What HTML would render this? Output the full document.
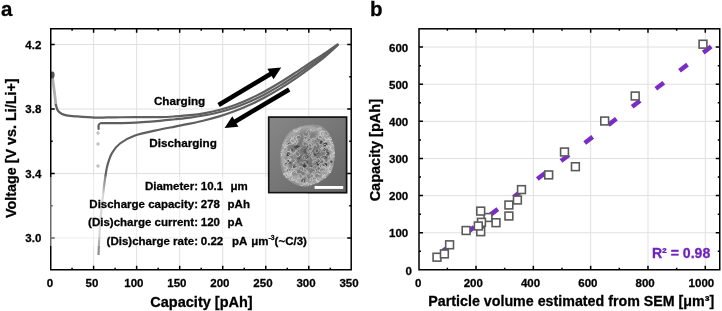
<!DOCTYPE html>
<html><head><meta charset="utf-8"><style>
html,body{margin:0;padding:0;background:#fff;width:722px;height:311px;overflow:hidden}
svg{display:block;will-change:transform}
</style></head><body>
<svg width="722" height="311" viewBox="0 0 722 311">
<rect width="722" height="311" fill="#fff"/>
<g stroke="#e0e0e0" stroke-width="1"><line x1="93.60" y1="28.75" x2="93.60" y2="269.75"/><line x1="136.64" y1="28.75" x2="136.64" y2="269.75"/><line x1="179.68" y1="28.75" x2="179.68" y2="269.75"/><line x1="222.72" y1="28.75" x2="222.72" y2="269.75"/><line x1="265.76" y1="28.75" x2="265.76" y2="269.75"/><line x1="308.80" y1="28.75" x2="308.80" y2="269.75"/><line x1="50.75" y1="44.50" x2="351.2" y2="44.50"/><line x1="50.75" y1="109.00" x2="351.2" y2="109.00"/><line x1="50.75" y1="173.50" x2="351.2" y2="173.50"/><line x1="50.75" y1="238.00" x2="351.2" y2="238.00"/><line x1="476.02" y1="28.8" x2="476.02" y2="269.75"/><line x1="533.34" y1="28.8" x2="533.34" y2="269.75"/><line x1="590.66" y1="28.8" x2="590.66" y2="269.75"/><line x1="647.98" y1="28.8" x2="647.98" y2="269.75"/><line x1="705.30" y1="28.8" x2="705.30" y2="269.75"/><line x1="419.0" y1="232.76" x2="719.75" y2="232.76"/><line x1="419.0" y1="195.62" x2="719.75" y2="195.62"/><line x1="419.0" y1="158.48" x2="719.75" y2="158.48"/><line x1="419.0" y1="121.34" x2="719.75" y2="121.34"/><line x1="419.0" y1="84.20" x2="719.75" y2="84.20"/><line x1="419.0" y1="47.06" x2="719.75" y2="47.06"/></g>
<path d="M72.08 269.75v-2M72.08 28.75v2M93.60 269.75v-4M93.60 28.75v4M115.12 269.75v-2M115.12 28.75v2M136.64 269.75v-4M136.64 28.75v4M158.16 269.75v-2M158.16 28.75v2M179.68 269.75v-4M179.68 28.75v4M201.20 269.75v-2M201.20 28.75v2M222.72 269.75v-4M222.72 28.75v4M244.24 269.75v-2M244.24 28.75v2M265.76 269.75v-4M265.76 28.75v4M287.28 269.75v-2M287.28 28.75v2M308.80 269.75v-4M308.80 28.75v4M330.32 269.75v-2M330.32 28.75v2M50.75 238.00h4M351.2 238.00h-4M50.75 205.75h2M351.2 205.75h-2M50.75 173.50h4M351.2 173.50h-4M50.75 141.25h2M351.2 141.25h-2M50.75 109.00h4M351.2 109.00h-4M50.75 76.75h2M351.2 76.75h-2M50.75 44.50h4M351.2 44.50h-4M447.36 269.75v-2M447.36 28.8v2M476.02 269.75v-4M476.02 28.8v4M504.68 269.75v-2M504.68 28.8v2M533.34 269.75v-4M533.34 28.8v4M562.00 269.75v-2M562.00 28.8v2M590.66 269.75v-4M590.66 28.8v4M619.32 269.75v-2M619.32 28.8v2M647.98 269.75v-4M647.98 28.8v4M676.64 269.75v-2M676.64 28.8v2M705.30 269.75v-4M705.30 28.8v4M419.0 251.33h2M719.75 251.33h-2M419.0 232.76h4M719.75 232.76h-4M419.0 214.19h2M719.75 214.19h-2M419.0 195.62h4M719.75 195.62h-4M419.0 177.05h2M719.75 177.05h-2M419.0 158.48h4M719.75 158.48h-4M419.0 139.91h2M719.75 139.91h-2M419.0 121.34h4M719.75 121.34h-4M419.0 102.77h2M719.75 102.77h-2M419.0 84.20h4M719.75 84.20h-4M419.0 65.63h2M719.75 65.63h-2M419.0 47.06h4M719.75 47.06h-4" stroke="#000" stroke-width="1.5" fill="none"/>
<defs><linearGradient id="g3" gradientUnits="userSpaceOnUse" x1="0" y1="172" x2="0" y2="256"><stop offset="0" stop-color="#5f5f5f"/><stop offset="0.0595" stop-color="#7c7c7c"/><stop offset="0.0596" stop-color="#3a3a3a"/><stop offset="0.155" stop-color="#5a5a5a"/><stop offset="0.274" stop-color="#bcbcbc"/><stop offset="0.75" stop-color="#bcbcbc"/><stop offset="0.845" stop-color="#707070"/><stop offset="0.9" stop-color="#909090"/><stop offset="1" stop-color="#8a8a8a"/></linearGradient></defs>
<g fill="none" stroke-width="2.2" stroke-linecap="round"><path d="M52.30 76.00 C52.57 78.00 53.45 84.50 53.90 88.00 C54.35 91.50 54.67 94.17 55.00 97.00 C55.33 99.83 55.75 103.67 55.90 105.00" stroke="#b0b0b0" stroke-width="2.8"/><path d="M55.90 105.00 C56.20 105.90 56.75 108.93 57.70 110.40 C58.65 111.87 60.15 112.98 61.60 113.80 C63.05 114.62 64.17 114.88 66.40 115.30 C68.63 115.72 70.23 115.92 75.00 116.30 C79.77 116.68 88.33 117.43 95.00 117.60 C101.67 117.77 108.33 117.37 115.00 117.30 C121.67 117.23 127.50 117.23 135.00 117.20 C142.50 117.17 153.33 117.22 160.00 117.09 C166.67 116.96 170.00 116.72 175.00 116.41 C180.00 116.09 185.00 115.76 190.00 115.20 C195.00 114.64 200.00 113.97 205.00 113.05 C210.00 112.13 215.00 111.04 220.00 109.69 C225.00 108.34 230.00 106.75 235.00 104.93 C240.00 103.11 245.00 101.04 250.00 98.75 C255.00 96.46 260.00 93.92 265.00 91.21 C270.00 88.50 275.00 85.55 280.00 82.51 C285.00 79.47 290.00 76.20 295.00 72.95 C300.00 69.70 305.00 66.28 310.00 62.98 C315.00 59.68 320.40 56.24 325.00 53.14 C329.60 50.04 335.50 45.86 337.60 44.40" stroke="#5f5f5f"/><path d="M98.60 129.00 C98.62 128.33 98.38 125.95 98.70 125.00 C99.02 124.05 99.45 123.62 100.50 123.30 C101.55 122.98 100.08 123.18 105.00 123.10 C109.92 123.02 120.83 123.19 130.00 122.80 C139.17 122.41 152.50 121.38 160.00 120.78 C167.50 120.18 170.00 119.76 175.00 119.22 C180.00 118.68 185.00 118.20 190.00 117.54 C195.00 116.88 200.00 116.19 205.00 115.26 C210.00 114.34 215.00 113.29 220.00 111.99 C225.00 110.69 230.00 109.22 235.00 107.48 C240.00 105.75 245.00 103.78 250.00 101.58 C255.00 99.38 260.00 96.94 265.00 94.29 C270.00 91.64 275.00 88.73 280.00 85.68 C285.00 82.63 290.00 79.35 295.00 76.00 C300.00 72.65 305.00 69.09 310.00 65.57 C315.00 62.04 320.40 58.30 325.00 54.85 C329.60 51.41 335.50 46.56 337.60 44.90" stroke="#5f5f5f"/><path d="M337.60 45.30 C335.50 47.18 329.60 52.79 325.00 56.59 C320.40 60.39 315.00 64.38 310.00 68.09 C305.00 71.80 300.00 75.42 295.00 78.85 C290.00 82.28 285.00 85.57 280.00 88.65 C275.00 91.73 270.00 94.63 265.00 97.32 C260.00 100.01 255.00 102.50 250.00 104.78 C245.00 107.06 240.00 109.14 235.00 111.03 C230.00 112.92 225.00 114.60 220.00 116.14 C215.00 117.68 210.00 119.03 205.00 120.28 C200.00 121.53 195.00 122.60 190.00 123.66 C185.00 124.72 180.00 125.63 175.00 126.61 C170.00 127.59 166.67 128.04 160.00 129.52 C153.33 131.00 141.67 133.17 135.00 135.50 C128.33 137.83 123.83 140.58 120.00 143.50 C116.17 146.42 114.08 149.42 112.00 153.00 C109.92 156.58 108.57 161.33 107.50 165.00 C106.43 168.67 105.92 173.33 105.60 175.00" stroke="#5f5f5f"/><path d="M105.60 175.00 C105.37 176.67 104.72 180.83 104.20 185.00 C103.68 189.17 103.12 194.17 102.50 200.00 C101.88 205.83 101.03 213.67 100.50 220.00 C99.97 226.33 99.63 232.17 99.30 238.00 C98.97 243.83 98.63 252.17 98.50 255.00" stroke="url(#g3)" stroke-linecap="butt"/></g>
<ellipse cx="52.4" cy="75" rx="2.2" ry="3.4" fill="#555"/>
<circle cx="98" cy="133" r="1.2" fill="none" stroke="#999" stroke-width="0.8"/>
<circle cx="98" cy="144" r="1.2" fill="none" stroke="#999" stroke-width="0.8"/>
<circle cx="98" cy="166" r="1.2" fill="none" stroke="#999" stroke-width="0.8"/>
<line x1="218.60" y1="105.00" x2="271.33" y2="73.50" stroke="#000" stroke-width="4.5"/><polygon points="281.20,67.60 273.55,79.16 267.39,68.86" fill="#000"/>
<line x1="289.20" y1="89.50" x2="234.49" y2="122.02" stroke="#000" stroke-width="4.5"/><polygon points="224.60,127.90 232.28,116.36 238.41,126.67" fill="#000"/>
<defs><clipPath id="ic"><rect x="268.9" y="117.1" width="77" height="74.4"/></clipPath><linearGradient id="bgG" x1="0" y1="0" x2="1" y2="1"><stop offset="0" stop-color="#878787"/><stop offset="0.5" stop-color="#767676"/><stop offset="1" stop-color="#646464"/></linearGradient><radialGradient id="spG" cx="0.45" cy="0.4" r="0.6"><stop offset="0" stop-color="#7c7c7c"/><stop offset="0.8" stop-color="#8a8a8a"/><stop offset="1" stop-color="#a8a8a8"/></radialGradient><filter id="sb" x="-5%" y="-5%" width="110%" height="110%"><feGaussianBlur stdDeviation="0.4"/></filter></defs><rect x="268.7" y="117.1" width="77.9" height="75.6" fill="url(#bgG)"/><defs><clipPath id="bc"><path d="M287.00 134.50 C291.02 129.55 298.52 126.85 304.50 125.60 C310.48 124.35 317.95 123.47 322.90 127.00 C327.85 130.53 333.02 139.02 334.20 146.80 C335.38 154.58 334.95 167.08 330.00 173.70 C325.05 180.32 312.05 186.02 304.50 186.50 C296.95 186.98 288.72 181.80 284.70 176.60 C280.68 171.40 280.02 162.32 280.40 155.30 C280.78 148.28 282.98 139.45 287.00 134.50Z"/></clipPath><radialGradient id="spG2" cx="0.5" cy="0.5" r="0.5"><stop offset="0" stop-color="#707070"/><stop offset="0.7" stop-color="#7e7e7e"/><stop offset="0.92" stop-color="#a8a8a8"/><stop offset="1" stop-color="#909090"/></radialGradient></defs><g filter="url(#sb)"><path d="M287.00 134.50 C291.02 129.55 298.52 126.85 304.50 125.60 C310.48 124.35 317.95 123.47 322.90 127.00 C327.85 130.53 333.02 139.02 334.20 146.80 C335.38 154.58 334.95 167.08 330.00 173.70 C325.05 180.32 312.05 186.02 304.50 186.50 C296.95 186.98 288.72 181.80 284.70 176.60 C280.68 171.40 280.02 162.32 280.40 155.30 C280.78 148.28 282.98 139.45 287.00 134.50Z" fill="url(#spG2)"/><g clip-path="url(#bc)"><circle cx="289.6" cy="161.5" r="2.1" fill="rgb(74,74,74)"/><circle cx="285.4" cy="162.9" r="1.2" fill="rgb(85,85,85)"/><circle cx="287.7" cy="154.5" r="2.0" fill="rgb(63,63,63)"/><circle cx="298.6" cy="159.1" r="1.6" fill="rgb(88,88,88)"/><circle cx="305.7" cy="151.2" r="2.2" fill="rgb(90,90,90)"/><circle cx="286.9" cy="162.3" r="1.8" fill="rgb(79,79,79)"/><circle cx="325.6" cy="157.7" r="1.1" fill="rgb(66,66,66)"/><circle cx="321.6" cy="142.7" r="1.9" fill="rgb(70,70,70)"/><circle cx="286.1" cy="164.4" r="1.6" fill="rgb(80,80,80)"/><circle cx="307.0" cy="157.6" r="1.1" fill="rgb(80,80,80)"/><circle cx="303.1" cy="180.6" r="2.2" fill="rgb(86,86,86)"/><circle cx="318.4" cy="162.3" r="1.9" fill="rgb(76,76,76)"/><circle cx="305.9" cy="162.4" r="1.9" fill="rgb(72,72,72)"/><circle cx="318.0" cy="164.5" r="1.1" fill="rgb(60,60,60)"/><circle cx="307.8" cy="155.5" r="1.3" fill="rgb(89,89,89)"/><circle cx="322.0" cy="160.9" r="1.9" fill="rgb(73,73,73)"/><circle cx="325.3" cy="164.8" r="1.9" fill="rgb(68,68,68)"/><circle cx="300.3" cy="167.9" r="1.0" fill="rgb(73,73,73)"/><circle cx="307.9" cy="147.4" r="1.3" fill="rgb(63,63,63)"/><circle cx="324.5" cy="157.2" r="1.6" fill="rgb(81,81,81)"/><circle cx="291.9" cy="149.9" r="1.2" fill="rgb(83,83,83)"/><circle cx="309.5" cy="139.9" r="1.5" fill="rgb(72,72,72)"/><circle cx="297.4" cy="161.5" r="1.3" fill="rgb(85,85,85)"/><circle cx="286.6" cy="142.3" r="1.0" fill="rgb(65,65,65)"/><circle cx="289.3" cy="170.2" r="1.8" fill="rgb(63,63,63)"/><circle cx="316.7" cy="158.5" r="1.5" fill="rgb(60,60,60)"/><circle cx="309.5" cy="141.8" r="1.4" fill="rgb(62,62,62)"/><circle cx="317.7" cy="161.1" r="1.8" fill="rgb(60,60,60)"/><circle cx="295.2" cy="146.9" r="1.5" fill="rgb(90,90,90)"/><circle cx="288.0" cy="144.1" r="1.2" fill="rgb(72,72,72)"/><circle cx="311.5" cy="165.0" r="2.1" fill="rgb(86,86,86)"/><circle cx="291.1" cy="142.4" r="1.2" fill="rgb(80,80,80)"/><circle cx="317.8" cy="151.9" r="2.1" fill="rgb(88,88,88)"/><circle cx="300.5" cy="156.8" r="1.1" fill="rgb(63,63,63)"/><circle cx="331.3" cy="161.9" r="1.3" fill="rgb(82,82,82)"/><circle cx="294.9" cy="166.2" r="2.1" fill="rgb(75,75,75)"/><circle cx="304.7" cy="166.1" r="1.9" fill="rgb(62,62,62)"/><circle cx="319.6" cy="168.3" r="1.8" fill="rgb(79,79,79)"/><circle cx="297.5" cy="147.3" r="2.1" fill="rgb(66,66,66)"/><circle cx="307.5" cy="149.4" r="1.5" fill="rgb(67,67,67)"/><circle cx="317.2" cy="159.9" r="1.4" fill="rgb(78,78,78)"/><circle cx="315.0" cy="154.7" r="1.2" fill="rgb(74,74,74)"/><circle cx="327.6" cy="153.5" r="1.8" fill="rgb(78,78,78)"/><circle cx="325.6" cy="149.7" r="2.1" fill="rgb(75,75,75)"/><circle cx="325.2" cy="144.8" r="2.2" fill="rgb(60,60,60)"/><path d="M300.2 152.6A1.5 1.5 0 0 1 299.9 150.1" fill="none" stroke="rgb(147,147,147)" stroke-width="0.9"/><path d="M329.3 164.6A2.6 2.6 0 1 1 324.8 167.0" fill="none" stroke="rgb(209,209,209)" stroke-width="0.9"/><path d="M329.4 178.4A1.9 1.9 0 0 1 325.8 177.0" fill="none" stroke="rgb(187,187,187)" stroke-width="0.9"/><path d="M322.6 140.0A2.7 2.7 0 0 1 319.3 144.1" fill="none" stroke="rgb(197,197,197)" stroke-width="0.9"/><path d="M299.1 140.9A1.4 1.4 0 0 1 296.7 141.2" fill="none" stroke="rgb(164,164,164)" stroke-width="0.9"/><path d="M333.7 156.5A2.6 2.6 0 1 1 338.0 153.8" fill="none" stroke="rgb(216,216,216)" stroke-width="0.9"/><path d="M285.6 161.1A2.3 2.3 0 0 1 290.1 161.1" fill="none" stroke="rgb(179,179,179)" stroke-width="0.9"/><path d="M290.2 142.0A1.8 1.8 0 0 1 291.7 145.1" fill="none" stroke="rgb(200,200,200)" stroke-width="0.9"/><path d="M294.4 140.4A2.8 2.8 0 0 1 295.5 135.6" fill="none" stroke="rgb(200,200,200)" stroke-width="0.9"/><path d="M309.6 165.4A2.8 2.8 0 0 1 313.4 169.5" fill="none" stroke="rgb(162,162,162)" stroke-width="0.9"/><path d="M294.6 178.4A1.7 1.7 0 1 1 297.8 177.7" fill="none" stroke="rgb(181,181,181)" stroke-width="0.9"/><path d="M320.1 145.4A2.3 2.3 0 0 1 319.7 141.4" fill="none" stroke="rgb(188,188,188)" stroke-width="0.9"/><path d="M292.1 179.5A1.5 1.5 0 1 1 290.2 177.5" fill="none" stroke="rgb(190,190,190)" stroke-width="0.9"/><path d="M324.5 166.9A2.9 2.9 0 0 1 323.1 172.3" fill="none" stroke="rgb(194,194,194)" stroke-width="0.9"/><path d="M293.4 156.3A2.7 2.7 0 0 1 288.2 157.9" fill="none" stroke="rgb(158,158,158)" stroke-width="0.9"/><path d="M314.0 139.9A2.4 2.4 0 0 1 317.2 143.0" fill="none" stroke="rgb(174,174,174)" stroke-width="0.9"/><path d="M298.8 182.0A1.4 1.4 0 0 1 296.6 180.2" fill="none" stroke="rgb(176,176,176)" stroke-width="0.9"/><path d="M310.1 138.1A2.6 2.6 0 1 1 307.0 141.8" fill="none" stroke="rgb(158,158,158)" stroke-width="0.9"/><path d="M285.9 161.6A2.4 2.4 0 1 1 282.8 164.9" fill="none" stroke="rgb(211,211,211)" stroke-width="0.9"/><path d="M315.8 180.0A1.8 1.8 0 1 1 316.1 183.6" fill="none" stroke="rgb(211,211,211)" stroke-width="0.9"/><path d="M303.6 145.1A1.8 1.8 0 1 1 306.0 142.3" fill="none" stroke="rgb(181,181,181)" stroke-width="0.9"/><path d="M278.5 154.6A1.7 1.7 0 1 1 276.3 157.1" fill="none" stroke="rgb(198,198,198)" stroke-width="0.9"/><path d="M334.0 173.0A2.6 2.6 0 0 1 330.0 169.9" fill="none" stroke="rgb(221,221,221)" stroke-width="0.9"/><path d="M308.1 152.5A2.3 2.3 0 0 1 311.1 155.9" fill="none" stroke="rgb(161,161,161)" stroke-width="0.9"/><path d="M283.6 159.8A1.7 1.7 0 1 1 283.4 163.1" fill="none" stroke="rgb(210,210,210)" stroke-width="0.9"/><path d="M315.5 152.3A1.8 1.8 0 0 1 316.4 149.4" fill="none" stroke="rgb(164,164,164)" stroke-width="0.9"/><path d="M283.2 148.8A1.9 1.9 0 1 1 279.6 149.9" fill="none" stroke="rgb(197,197,197)" stroke-width="0.9"/><path d="M300.0 156.8A1.9 1.9 0 0 1 302.4 154.0" fill="none" stroke="rgb(142,142,142)" stroke-width="0.9"/><path d="M315.1 183.8A2.1 2.1 0 0 1 310.9 183.3" fill="none" stroke="rgb(222,222,222)" stroke-width="0.9"/><path d="M308.5 144.9A1.6 1.6 0 1 1 311.7 145.6" fill="none" stroke="rgb(189,189,189)" stroke-width="0.9"/><path d="M298.7 128.2A2.2 2.2 0 0 1 296.4 131.1" fill="none" stroke="rgb(196,196,196)" stroke-width="0.9"/><path d="M284.2 163.3A2.7 2.7 0 0 1 288.9 162.8" fill="none" stroke="rgb(197,197,197)" stroke-width="0.9"/><path d="M318.6 138.6A1.9 1.9 0 1 1 321.8 136.9" fill="none" stroke="rgb(204,204,204)" stroke-width="0.9"/><path d="M311.8 182.3A2.9 2.9 0 0 1 317.6 182.9" fill="none" stroke="rgb(190,190,190)" stroke-width="0.9"/><path d="M297.9 162.4A1.4 1.4 0 0 1 299.7 160.2" fill="none" stroke="rgb(147,147,147)" stroke-width="0.9"/><path d="M286.1 153.1A2.7 2.7 0 0 1 291.3 154.4" fill="none" stroke="rgb(202,202,202)" stroke-width="0.9"/><path d="M323.8 180.1A2.1 2.1 0 1 1 319.8 181.2" fill="none" stroke="rgb(206,206,206)" stroke-width="0.9"/><path d="M303.5 177.1A1.6 1.6 0 1 1 306.6 176.5" fill="none" stroke="rgb(191,191,191)" stroke-width="0.9"/><path d="M299.8 154.8A2.1 2.1 0 0 1 296.0 155.6" fill="none" stroke="rgb(188,188,188)" stroke-width="0.9"/><path d="M308.6 153.2A1.7 1.7 0 1 1 308.4 149.8" fill="none" stroke="rgb(161,161,161)" stroke-width="0.9"/><path d="M302.9 141.4A2.2 2.2 0 0 1 307.2 141.2" fill="none" stroke="rgb(183,183,183)" stroke-width="0.9"/><path d="M291.2 136.5A2.5 2.5 0 0 1 290.5 140.4" fill="none" stroke="rgb(212,212,212)" stroke-width="0.9"/><path d="M289.3 168.9A1.7 1.7 0 1 1 288.4 165.7" fill="none" stroke="rgb(203,203,203)" stroke-width="0.9"/><path d="M308.3 168.5A2.3 2.3 0 0 1 312.3 168.6" fill="none" stroke="rgb(196,196,196)" stroke-width="0.9"/><path d="M293.9 142.2A1.7 1.7 0 1 1 295.7 144.9" fill="none" stroke="rgb(167,167,167)" stroke-width="0.9"/><path d="M315.3 187.5A2.8 2.8 0 0 1 310.6 185.3" fill="none" stroke="rgb(230,230,230)" stroke-width="0.9"/><path d="M325.3 165.1A2.1 2.1 0 0 1 321.6 166.9" fill="none" stroke="rgb(202,202,202)" stroke-width="0.9"/><path d="M323.4 169.8A2.5 2.5 0 0 1 319.1 171.3" fill="none" stroke="rgb(201,201,201)" stroke-width="0.9"/><path d="M289.9 175.3A2.0 2.0 0 1 1 290.9 179.1" fill="none" stroke="rgb(197,197,197)" stroke-width="0.9"/><path d="M284.2 156.3A1.7 1.7 0 0 1 281.3 156.6" fill="none" stroke="rgb(172,172,172)" stroke-width="0.9"/><path d="M306.4 132.9A2.8 2.8 0 0 1 310.7 130.1" fill="none" stroke="rgb(174,174,174)" stroke-width="0.9"/><path d="M318.0 181.0A3.0 3.0 0 0 1 315.4 185.3" fill="none" stroke="rgb(180,180,180)" stroke-width="0.9"/><path d="M325.2 175.4A1.5 1.5 0 0 1 322.4 174.3" fill="none" stroke="rgb(197,197,197)" stroke-width="0.9"/><path d="M290.3 154.3A2.4 2.4 0 1 1 285.6 153.5" fill="none" stroke="rgb(171,171,171)" stroke-width="0.9"/><path d="M313.8 175.8A2.6 2.6 0 0 1 316.1 171.8" fill="none" stroke="rgb(170,170,170)" stroke-width="0.9"/><path d="M331.3 172.0A1.9 1.9 0 1 1 328.6 169.3" fill="none" stroke="rgb(215,215,215)" stroke-width="0.9"/><path d="M327.1 146.7A1.7 1.7 0 0 1 330.2 147.5" fill="none" stroke="rgb(213,213,213)" stroke-width="0.9"/><path d="M306.5 182.0A2.6 2.6 0 1 1 304.5 186.7" fill="none" stroke="rgb(206,206,206)" stroke-width="0.9"/><path d="M317.5 170.4A2.3 2.3 0 0 1 319.8 166.7" fill="none" stroke="rgb(165,165,165)" stroke-width="0.9"/><path d="M285.5 171.5A1.5 1.5 0 0 1 286.7 168.8" fill="none" stroke="rgb(172,172,172)" stroke-width="0.9"/><path d="M333.0 137.6A2.8 2.8 0 0 1 327.7 137.9" fill="none" stroke="rgb(226,226,226)" stroke-width="0.9"/><path d="M304.1 171.2A2.0 2.0 0 0 1 301.2 169.4" fill="none" stroke="rgb(181,181,181)" stroke-width="0.9"/><path d="M331.7 153.5A2.5 2.5 0 1 1 329.6 157.6" fill="none" stroke="rgb(169,169,169)" stroke-width="0.9"/><path d="M313.2 163.1A1.8 1.8 0 0 1 316.4 161.5" fill="none" stroke="rgb(192,192,192)" stroke-width="0.9"/><path d="M313.7 174.9A1.6 1.6 0 1 1 314.6 172.1" fill="none" stroke="rgb(191,191,191)" stroke-width="0.9"/><path d="M290.1 149.3A2.2 2.2 0 0 1 289.9 153.1" fill="none" stroke="rgb(186,186,186)" stroke-width="0.9"/><path d="M310.7 145.9A2.4 2.4 0 0 1 312.7 149.2" fill="none" stroke="rgb(153,153,153)" stroke-width="0.9"/><path d="M282.6 174.7A2.8 2.8 0 0 1 287.9 176.1" fill="none" stroke="rgb(210,210,210)" stroke-width="0.9"/><path d="M324.0 148.1A2.2 2.2 0 0 1 328.1 149.6" fill="none" stroke="rgb(176,176,176)" stroke-width="0.9"/><path d="M290.5 155.2A2.9 2.9 0 1 1 292.7 160.4" fill="none" stroke="rgb(153,153,153)" stroke-width="0.9"/><path d="M323.1 158.5A1.5 1.5 0 1 1 321.9 155.9" fill="none" stroke="rgb(175,175,175)" stroke-width="0.9"/><path d="M321.6 160.5A2.0 2.0 0 1 1 324.9 162.9" fill="none" stroke="rgb(174,174,174)" stroke-width="0.9"/><path d="M331.0 169.0A2.1 2.1 0 1 1 334.7 170.0" fill="none" stroke="rgb(195,195,195)" stroke-width="0.9"/><path d="M318.8 157.2A2.7 2.7 0 0 1 316.6 161.3" fill="none" stroke="rgb(159,159,159)" stroke-width="0.9"/><path d="M297.1 150.5A2.4 2.4 0 0 1 300.3 147.6" fill="none" stroke="rgb(148,148,148)" stroke-width="0.9"/><path d="M301.4 166.8A2.0 2.0 0 0 1 298.4 164.4" fill="none" stroke="rgb(184,184,184)" stroke-width="0.9"/><path d="M306.1 176.8A2.1 2.1 0 0 1 305.8 180.9" fill="none" stroke="rgb(174,174,174)" stroke-width="0.9"/><path d="M333.4 149.6A1.8 1.8 0 1 1 331.7 146.7" fill="none" stroke="rgb(223,223,223)" stroke-width="0.9"/><path d="M278.5 153.6A1.8 1.8 0 1 1 281.0 156.2" fill="none" stroke="rgb(222,222,222)" stroke-width="0.9"/><path d="M288.4 145.4A2.6 2.6 0 0 1 285.1 142.0" fill="none" stroke="rgb(209,209,209)" stroke-width="0.9"/><path d="M333.1 142.3A1.5 1.5 0 0 1 330.4 142.3" fill="none" stroke="rgb(206,206,206)" stroke-width="0.9"/><path d="M313.0 158.7A1.8 1.8 0 1 1 314.1 155.4" fill="none" stroke="rgb(184,184,184)" stroke-width="0.9"/><path d="M312.3 168.6A3.0 3.0 0 0 1 317.6 166.5" fill="none" stroke="rgb(171,171,171)" stroke-width="0.9"/><path d="M295.6 178.8A2.7 2.7 0 0 1 290.9 179.1" fill="none" stroke="rgb(212,212,212)" stroke-width="0.9"/><path d="M321.3 131.5A2.1 2.1 0 0 1 322.3 135.5" fill="none" stroke="rgb(183,183,183)" stroke-width="0.9"/><path d="M289.7 176.4A3.0 3.0 0 0 1 292.0 171.0" fill="none" stroke="rgb(216,216,216)" stroke-width="0.9"/><path d="M311.3 143.4A2.4 2.4 0 0 1 315.8 145.0" fill="none" stroke="rgb(168,168,168)" stroke-width="0.9"/><path d="M312.8 160.3A2.3 2.3 0 1 1 317.4 160.3" fill="none" stroke="rgb(162,162,162)" stroke-width="0.9"/><path d="M310.4 152.4A1.9 1.9 0 0 1 307.2 154.4" fill="none" stroke="rgb(184,184,184)" stroke-width="0.9"/><path d="M298.5 182.6A2.5 2.5 0 0 1 297.2 178.4" fill="none" stroke="rgb(194,194,194)" stroke-width="0.9"/><path d="M296.8 144.2A2.9 2.9 0 0 1 298.3 138.8" fill="none" stroke="rgb(192,192,192)" stroke-width="0.9"/><path d="M330.2 142.8A2.9 2.9 0 1 1 335.7 141.9" fill="none" stroke="rgb(201,201,201)" stroke-width="0.9"/><path d="M293.5 156.7A2.9 2.9 0 0 1 294.8 162.4" fill="none" stroke="rgb(154,154,154)" stroke-width="0.9"/><path d="M294.2 171.1A2.0 2.0 0 0 1 296.6 168.0" fill="none" stroke="rgb(168,168,168)" stroke-width="0.9"/><path d="M307.4 139.5A2.0 2.0 0 0 1 305.0 136.2" fill="none" stroke="rgb(167,167,167)" stroke-width="0.9"/><path d="M318.6 182.2A2.8 2.8 0 0 1 316.6 178.1" fill="none" stroke="rgb(207,207,207)" stroke-width="0.9"/><path d="M320.5 160.5A1.9 1.9 0 1 1 317.2 159.1" fill="none" stroke="rgb(174,174,174)" stroke-width="0.9"/><path d="M330.2 166.0A2.7 2.7 0 0 1 325.8 166.3" fill="none" stroke="rgb(211,211,211)" stroke-width="0.9"/><path d="M319.9 165.1A1.4 1.4 0 0 1 322.2 166.1" fill="none" stroke="rgb(195,195,195)" stroke-width="0.9"/><path d="M287.0 166.7A2.2 2.2 0 0 1 284.3 169.9" fill="none" stroke="rgb(201,201,201)" stroke-width="0.9"/><path d="M292.4 164.1A2.9 2.9 0 0 1 295.8 168.9" fill="none" stroke="rgb(189,189,189)" stroke-width="0.9"/><path d="M312.5 149.1A2.4 2.4 0 1 1 308.3 147.0" fill="none" stroke="rgb(185,185,185)" stroke-width="0.9"/><path d="M308.1 158.6A2.0 2.0 0 0 1 304.5 157.0" fill="none" stroke="rgb(174,174,174)" stroke-width="0.9"/><path d="M294.5 136.8A2.5 2.5 0 0 1 293.9 141.8" fill="none" stroke="rgb(189,189,189)" stroke-width="0.9"/><path d="M319.2 147.2A1.7 1.7 0 1 1 321.2 149.9" fill="none" stroke="rgb(171,171,171)" stroke-width="0.9"/><path d="M314.9 174.4A1.9 1.9 0 0 1 312.7 176.6" fill="none" stroke="rgb(178,178,178)" stroke-width="0.9"/><path d="M307.0 138.8A1.6 1.6 0 1 1 303.9 139.3" fill="none" stroke="rgb(201,201,201)" stroke-width="0.9"/><path d="M288.1 162.5A2.9 2.9 0 0 1 283.5 164.1" fill="none" stroke="rgb(177,177,177)" stroke-width="0.9"/><path d="M290.6 174.2A2.4 2.4 0 0 1 295.1 172.9" fill="none" stroke="rgb(194,194,194)" stroke-width="0.9"/><path d="M313.9 168.9A1.7 1.7 0 0 1 314.8 172.0" fill="none" stroke="rgb(187,187,187)" stroke-width="0.9"/><path d="M325.5 148.3A2.8 2.8 0 0 1 330.7 146.6" fill="none" stroke="rgb(185,185,185)" stroke-width="0.9"/><path d="M294.4 132.6A1.5 1.5 0 0 1 293.0 135.2" fill="none" stroke="rgb(187,187,187)" stroke-width="0.9"/><path d="M330.9 147.0A2.0 2.0 0 0 1 334.9 147.2" fill="none" stroke="rgb(193,193,193)" stroke-width="0.9"/><path d="M311.4 147.2A2.9 2.9 0 1 1 306.3 149.3" fill="none" stroke="rgb(165,165,165)" stroke-width="0.9"/><path d="M294.8 159.1A2.1 2.1 0 0 1 292.6 162.5" fill="none" stroke="rgb(200,200,200)" stroke-width="0.9"/><path d="M298.1 169.5A2.8 2.8 0 1 1 303.6 170.2" fill="none" stroke="rgb(190,190,190)" stroke-width="0.9"/><path d="M305.4 176.2A1.6 1.6 0 0 1 306.8 178.4" fill="none" stroke="rgb(173,173,173)" stroke-width="0.9"/><path d="M310.9 146.5A1.8 1.8 0 0 1 313.1 148.7" fill="none" stroke="rgb(173,173,173)" stroke-width="0.9"/><path d="M302.0 147.2A2.6 2.6 0 0 1 307.1 148.0" fill="none" stroke="rgb(144,144,144)" stroke-width="0.9"/><path d="M314.6 138.8A2.9 2.9 0 1 1 310.8 134.7" fill="none" stroke="rgb(171,171,171)" stroke-width="0.9"/><path d="M328.3 159.7A2.2 2.2 0 1 1 324.3 159.5" fill="none" stroke="rgb(178,178,178)" stroke-width="0.9"/><path d="M302.6 164.1A1.9 1.9 0 1 1 306.3 163.7" fill="none" stroke="rgb(166,166,166)" stroke-width="0.9"/><path d="M316.4 158.9A2.5 2.5 0 1 1 317.9 163.5" fill="none" stroke="rgb(196,196,196)" stroke-width="0.9"/><path d="M318.1 135.7A1.4 1.4 0 1 1 320.4 134.0" fill="none" stroke="rgb(184,184,184)" stroke-width="0.9"/><path d="M306.4 163.7A2.6 2.6 0 1 1 302.3 166.7" fill="none" stroke="rgb(191,191,191)" stroke-width="0.9"/><path d="M312.5 180.0A1.9 1.9 0 0 1 314.9 177.2" fill="none" stroke="rgb(186,186,186)" stroke-width="0.9"/><path d="M334.4 149.8A2.3 2.3 0 0 1 330.4 149.4" fill="none" stroke="rgb(197,197,197)" stroke-width="0.9"/><path d="M302.8 137.8A2.9 2.9 0 1 1 307.8 140.7" fill="none" stroke="rgb(175,175,175)" stroke-width="0.9"/><path d="M288.8 161.0A1.6 1.6 0 0 1 291.5 161.6" fill="none" stroke="rgb(197,197,197)" stroke-width="0.9"/><path d="M305.3 142.0A2.0 2.0 0 0 1 303.2 145.5" fill="none" stroke="rgb(153,153,153)" stroke-width="0.9"/><path d="M309.1 160.4A3.0 3.0 0 1 1 314.8 159.0" fill="none" stroke="rgb(162,162,162)" stroke-width="0.9"/><path d="M323.4 144.9A2.2 2.2 0 1 1 325.4 148.7" fill="none" stroke="rgb(203,203,203)" stroke-width="0.9"/><path d="M296.5 167.5A2.1 2.1 0 0 1 292.6 168.1" fill="none" stroke="rgb(198,198,198)" stroke-width="0.9"/><path d="M298.3 180.1A1.8 1.8 0 0 1 294.8 180.7" fill="none" stroke="rgb(191,191,191)" stroke-width="0.9"/><path d="M300.9 172.8A2.4 2.4 0 0 1 296.5 170.9" fill="none" stroke="rgb(187,187,187)" stroke-width="0.9"/><path d="M299.1 168.6A1.6 1.6 0 0 1 300.8 170.9" fill="none" stroke="rgb(187,187,187)" stroke-width="0.9"/><path d="M323.7 143.3A2.0 2.0 0 0 1 326.7 141.6" fill="none" stroke="rgb(209,209,209)" stroke-width="0.9"/><path d="M316.0 180.6A3.0 3.0 0 1 1 315.5 186.2" fill="none" stroke="rgb(218,218,218)" stroke-width="0.9"/><path d="M331.3 148.8A1.7 1.7 0 0 1 328.2 148.4" fill="none" stroke="rgb(204,204,204)" stroke-width="0.9"/><path d="M293.5 163.5A1.5 1.5 0 0 1 292.4 166.1" fill="none" stroke="rgb(162,162,162)" stroke-width="0.9"/><path d="M281.4 162.8A1.8 1.8 0 0 1 284.7 164.1" fill="none" stroke="rgb(176,176,176)" stroke-width="0.9"/><path d="M296.0 150.1A2.9 2.9 0 1 1 290.5 149.2" fill="none" stroke="rgb(189,189,189)" stroke-width="0.9"/><path d="M324.6 177.7A1.4 1.4 0 0 1 326.3 179.8" fill="none" stroke="rgb(230,230,230)" stroke-width="0.9"/><path d="M281.4 143.3A1.7 1.7 0 0 1 284.1 142.5" fill="none" stroke="rgb(179,179,179)" stroke-width="0.9"/><path d="M288.6 171.1A2.9 2.9 0 0 1 284.2 173.6" fill="none" stroke="rgb(223,223,223)" stroke-width="0.9"/><path d="M293.6 132.2A2.0 2.0 0 1 1 296.3 135.0" fill="none" stroke="rgb(174,174,174)" stroke-width="0.9"/><path d="M316.5 171.9A1.5 1.5 0 0 1 318.9 171.0" fill="none" stroke="rgb(183,183,183)" stroke-width="0.9"/><path d="M315.8 174.4A1.8 1.8 0 0 1 319.3 174.9" fill="none" stroke="rgb(204,204,204)" stroke-width="0.9"/><path d="M310.7 132.6A2.7 2.7 0 0 1 314.6 129.1" fill="none" stroke="rgb(178,178,178)" stroke-width="0.9"/><path d="M287.7 157.4A2.4 2.4 0 1 1 288.7 162.0" fill="none" stroke="rgb(206,206,206)" stroke-width="0.9"/><path d="M303.7 182.5A2.1 2.1 0 1 1 300.0 184.6" fill="none" stroke="rgb(207,207,207)" stroke-width="0.9"/><path d="M313.6 165.4A2.9 2.9 0 0 1 315.9 160.1" fill="none" stroke="rgb(171,171,171)" stroke-width="0.9"/><path d="M321.3 144.9A1.5 1.5 0 1 1 320.8 147.7" fill="none" stroke="rgb(200,200,200)" stroke-width="0.9"/><path d="M297.3 166.1A2.7 2.7 0 1 1 292.7 168.3" fill="none" stroke="rgb(169,169,169)" stroke-width="0.9"/><path d="M320.0 171.5A2.2 2.2 0 0 1 321.1 168.0" fill="none" stroke="rgb(204,204,204)" stroke-width="0.9"/><path d="M328.8 171.7A2.3 2.3 0 1 1 329.8 175.8" fill="none" stroke="rgb(184,184,184)" stroke-width="0.9"/><path d="M331.2 157.9A2.8 2.8 0 0 1 334.7 153.6" fill="none" stroke="rgb(208,208,208)" stroke-width="0.9"/><path d="M309.9 141.7A2.6 2.6 0 1 1 313.6 145.0" fill="none" stroke="rgb(155,155,155)" stroke-width="0.9"/><path d="M294.3 153.4A2.8 2.8 0 0 1 299.6 155.0" fill="none" stroke="rgb(163,163,163)" stroke-width="0.9"/><path d="M309.9 173.1A1.9 1.9 0 1 1 307.1 170.8" fill="none" stroke="rgb(186,186,186)" stroke-width="0.9"/><path d="M295.4 167.4A2.3 2.3 0 0 1 291.9 168.7" fill="none" stroke="rgb(176,176,176)" stroke-width="0.9"/><path d="M302.8 175.4A2.9 2.9 0 0 1 297.4 177.0" fill="none" stroke="rgb(175,175,175)" stroke-width="0.9"/><path d="M318.0 183.5A2.5 2.5 0 0 1 313.2 183.3" fill="none" stroke="rgb(200,200,200)" stroke-width="0.9"/><path d="M309.8 151.5A2.4 2.4 0 0 1 311.6 155.9" fill="none" stroke="rgb(174,174,174)" stroke-width="0.9"/><path d="M301.3 147.2A2.8 2.8 0 0 1 296.7 148.3" fill="none" stroke="rgb(194,194,194)" stroke-width="0.9"/><path d="M318.0 130.1A1.8 1.8 0 1 1 321.5 129.4" fill="none" stroke="rgb(204,204,204)" stroke-width="0.9"/><path d="M299.7 129.6A2.1 2.1 0 0 1 295.8 129.3" fill="none" stroke="rgb(201,201,201)" stroke-width="0.9"/><path d="M325.3 171.3A1.8 1.8 0 0 1 326.4 174.8" fill="none" stroke="rgb(189,189,189)" stroke-width="0.9"/><path d="M313.9 136.6A2.5 2.5 0 0 1 310.3 140.0" fill="none" stroke="rgb(170,170,170)" stroke-width="0.9"/><path d="M335.9 153.6A1.7 1.7 0 0 1 334.0 151.3" fill="none" stroke="rgb(222,222,222)" stroke-width="0.9"/><path d="M330.5 171.6A2.1 2.1 0 0 1 334.7 171.9" fill="none" stroke="rgb(186,186,186)" stroke-width="0.9"/><path d="M328.5 158.1A2.3 2.3 0 0 1 332.4 155.8" fill="none" stroke="rgb(176,176,176)" stroke-width="0.9"/><path d="M301.5 183.2A1.8 1.8 0 0 1 301.9 179.7" fill="none" stroke="rgb(185,185,185)" stroke-width="0.9"/><path d="M308.4 142.8A2.8 2.8 0 1 1 310.8 147.5" fill="none" stroke="rgb(183,183,183)" stroke-width="0.9"/><path d="M286.8 177.2A2.2 2.2 0 0 1 284.7 173.3" fill="none" stroke="rgb(222,222,222)" stroke-width="0.9"/><path d="M324.0 147.3A2.2 2.2 0 0 1 319.9 147.9" fill="none" stroke="rgb(194,194,194)" stroke-width="0.9"/><path d="M300.2 138.8A2.9 2.9 0 1 1 298.5 133.3" fill="none" stroke="rgb(173,173,173)" stroke-width="0.9"/><path d="M320.2 168.1A2.5 2.5 0 0 1 324.8 167.7" fill="none" stroke="rgb(204,204,204)" stroke-width="0.9"/><path d="M311.6 144.1A2.2 2.2 0 0 1 310.7 139.8" fill="none" stroke="rgb(181,181,181)" stroke-width="0.9"/><path d="M309.3 170.4A3.0 3.0 0 0 1 303.6 169.5" fill="none" stroke="rgb(160,160,160)" stroke-width="0.9"/><path d="M297.7 174.6A2.4 2.4 0 0 1 296.6 179.2" fill="none" stroke="rgb(213,213,213)" stroke-width="0.9"/><path d="M306.6 181.9A1.5 1.5 0 0 1 304.1 183.7" fill="none" stroke="rgb(209,209,209)" stroke-width="0.9"/><path d="M287.4 144.6A2.4 2.4 0 0 1 282.7 143.9" fill="none" stroke="rgb(216,216,216)" stroke-width="0.9"/><path d="M298.0 180.0A2.2 2.2 0 0 1 298.3 175.5" fill="none" stroke="rgb(172,172,172)" stroke-width="0.9"/><path d="M294.9 140.7A2.0 2.0 0 0 1 294.4 136.7" fill="none" stroke="rgb(204,204,204)" stroke-width="0.9"/><path d="M319.2 133.6A1.5 1.5 0 0 1 321.1 131.4" fill="none" stroke="rgb(188,188,188)" stroke-width="0.9"/><path d="M299.1 126.3A1.6 1.6 0 0 1 299.1 129.5" fill="none" stroke="rgb(191,191,191)" stroke-width="0.9"/><path d="M322.5 172.6A2.6 2.6 0 0 1 317.8 173.4" fill="none" stroke="rgb(193,193,193)" stroke-width="0.9"/><path d="M317.7 171.5A1.9 1.9 0 0 1 319.2 168.7" fill="none" stroke="rgb(159,159,159)" stroke-width="0.9"/><path d="M294.4 131.1A3.0 3.0 0 0 1 299.6 133.1" fill="none" stroke="rgb(179,179,179)" stroke-width="0.9"/><path d="M295.5 150.4A2.1 2.1 0 0 1 292.3 153.0" fill="none" stroke="rgb(171,171,171)" stroke-width="0.9"/><path d="M335.6 148.0A1.7 1.7 0 0 1 333.7 145.1" fill="none" stroke="rgb(184,184,184)" stroke-width="0.9"/><path d="M307.9 131.6A2.9 2.9 0 1 1 302.9 133.6" fill="none" stroke="rgb(176,176,176)" stroke-width="0.9"/><path d="M287.2 162.2A2.7 2.7 0 1 1 291.8 159.4" fill="none" stroke="rgb(170,170,170)" stroke-width="0.9"/><path d="M295.4 160.8A2.7 2.7 0 0 1 294.4 166.0" fill="none" stroke="rgb(176,176,176)" stroke-width="0.9"/><path d="M310.3 176.6A1.9 1.9 0 1 1 313.7 176.9" fill="none" stroke="rgb(204,204,204)" stroke-width="0.9"/><path d="M314.2 176.1A2.3 2.3 0 0 1 315.8 172.8" fill="none" stroke="rgb(178,178,178)" stroke-width="0.9"/><path d="M297.9 169.2A1.4 1.4 0 0 1 295.9 167.4" fill="none" stroke="rgb(177,177,177)" stroke-width="0.9"/><path d="M286.8 147.1A1.7 1.7 0 0 1 284.0 147.0" fill="none" stroke="rgb(215,215,215)" stroke-width="0.9"/><path d="M323.7 146.4A2.6 2.6 0 1 1 322.9 151.3" fill="none" stroke="rgb(157,157,157)" stroke-width="0.9"/><path d="M336.3 154.0A2.1 2.1 0 0 1 334.6 157.7" fill="none" stroke="rgb(193,193,193)" stroke-width="0.9"/><path d="M309.1 135.5A1.5 1.5 0 0 1 310.4 133.1" fill="none" stroke="rgb(165,165,165)" stroke-width="0.9"/><path d="M316.1 177.4A1.6 1.6 0 0 1 314.7 174.7" fill="none" stroke="rgb(193,193,193)" stroke-width="0.9"/><path d="M296.7 155.5A2.5 2.5 0 1 1 297.7 150.6" fill="none" stroke="rgb(188,188,188)" stroke-width="0.9"/><path d="M284.7 175.1A2.7 2.7 0 0 1 290.1 175.3" fill="none" stroke="rgb(187,187,187)" stroke-width="0.9"/><path d="M285.9 176.0A1.8 1.8 0 0 1 285.8 172.6" fill="none" stroke="rgb(191,191,191)" stroke-width="0.9"/><path d="M322.5 177.6A2.6 2.6 0 0 1 325.4 174.8" fill="none" stroke="rgb(226,226,226)" stroke-width="0.9"/><path d="M325.8 152.3A2.5 2.5 0 0 1 323.2 155.9" fill="none" stroke="rgb(197,197,197)" stroke-width="0.9"/><path d="M299.3 166.2A2.6 2.6 0 1 1 303.6 163.3" fill="none" stroke="rgb(161,161,161)" stroke-width="0.9"/><path d="M326.0 167.2A2.0 2.0 0 0 1 322.1 166.7" fill="none" stroke="rgb(180,180,180)" stroke-width="0.9"/><path d="M303.6 179.8A1.8 1.8 0 0 1 301.7 182.3" fill="none" stroke="rgb(220,220,220)" stroke-width="0.9"/><path d="M321.2 178.2A1.8 1.8 0 0 1 317.9 177.2" fill="none" stroke="rgb(196,196,196)" stroke-width="0.9"/><path d="M315.5 135.0A1.8 1.8 0 0 1 314.5 138.3" fill="none" stroke="rgb(162,162,162)" stroke-width="0.9"/><path d="M318.4 148.5A2.9 2.9 0 0 1 315.2 152.8" fill="none" stroke="rgb(169,169,169)" stroke-width="0.9"/><path d="M283.6 158.6A2.2 2.2 0 0 1 283.9 154.6" fill="none" stroke="rgb(167,167,167)" stroke-width="0.9"/><path d="M323.6 161.7A2.0 2.0 0 1 1 325.5 158.3" fill="none" stroke="rgb(165,165,165)" stroke-width="0.9"/><path d="M297.4 140.3A1.9 1.9 0 0 1 296.5 143.3" fill="none" stroke="rgb(202,202,202)" stroke-width="0.9"/><path d="M330.4 145.0A2.4 2.4 0 0 1 334.4 147.4" fill="none" stroke="rgb(200,200,200)" stroke-width="0.9"/><path d="M312.7 159.7A2.1 2.1 0 1 1 316.6 160.0" fill="none" stroke="rgb(167,167,167)" stroke-width="0.9"/><path d="M317.4 160.7A2.2 2.2 0 0 1 317.8 156.4" fill="none" stroke="rgb(147,147,147)" stroke-width="0.9"/><path d="M314.5 165.0A1.8 1.8 0 0 1 316.9 167.2" fill="none" stroke="rgb(148,148,148)" stroke-width="0.9"/><path d="M332.7 142.4A1.4 1.4 0 1 1 335.0 143.8" fill="none" stroke="rgb(232,232,232)" stroke-width="0.9"/><path d="M286.0 146.9A2.3 2.3 0 1 1 282.7 149.6" fill="none" stroke="rgb(189,189,189)" stroke-width="0.9"/><path d="M307.1 164.3A1.4 1.4 0 0 1 307.4 166.9" fill="none" stroke="rgb(169,169,169)" stroke-width="0.9"/><path d="M297.5 131.1A2.7 2.7 0 1 1 294.7 126.5" fill="none" stroke="rgb(214,214,214)" stroke-width="0.9"/><path d="M311.6 142.2A2.1 2.1 0 1 1 314.6 139.4" fill="none" stroke="rgb(184,184,184)" stroke-width="0.9"/><path d="M309.6 172.7A1.9 1.9 0 0 1 307.5 169.4" fill="none" stroke="rgb(159,159,159)" stroke-width="0.9"/><path d="M331.0 133.4A2.7 2.7 0 0 1 328.4 137.9" fill="none" stroke="rgb(212,212,212)" stroke-width="0.9"/><path d="M281.8 153.1A1.5 1.5 0 0 1 284.2 154.6" fill="none" stroke="rgb(200,200,200)" stroke-width="0.9"/><path d="M322.4 158.9A2.2 2.2 0 0 1 322.2 163.2" fill="none" stroke="rgb(196,196,196)" stroke-width="0.9"/><path d="M296.5 144.6A2.5 2.5 0 1 1 295.8 139.9" fill="none" stroke="rgb(169,169,169)" stroke-width="0.9"/><path d="M320.5 134.3A2.3 2.3 0 1 1 324.7 132.5" fill="none" stroke="rgb(216,216,216)" stroke-width="0.9"/><path d="M307.1 142.1A1.7 1.7 0 1 1 306.1 138.9" fill="none" stroke="rgb(170,170,170)" stroke-width="0.9"/><path d="M307.8 168.1A1.4 1.4 0 1 1 309.5 170.2" fill="none" stroke="rgb(156,156,156)" stroke-width="0.9"/><path d="M304.8 170.0A1.8 1.8 0 0 1 307.3 172.5" fill="none" stroke="rgb(195,195,195)" stroke-width="0.9"/><path d="M316.0 157.3A2.5 2.5 0 0 1 311.9 156.8" fill="none" stroke="rgb(160,160,160)" stroke-width="0.9"/><path d="M291.6 174.8A2.7 2.7 0 1 1 296.5 173.4" fill="none" stroke="rgb(198,198,198)" stroke-width="0.9"/><path d="M313.7 146.8A1.5 1.5 0 1 1 316.6 146.5" fill="none" stroke="rgb(188,188,188)" stroke-width="0.9"/><path d="M303.8 172.0A2.4 2.4 0 1 1 301.7 175.8" fill="none" stroke="rgb(181,181,181)" stroke-width="0.9"/><path d="M302.4 142.2A1.9 1.9 0 0 1 300.5 145.3" fill="none" stroke="rgb(155,155,155)" stroke-width="0.9"/><path d="M278.3 147.3A2.8 2.8 0 0 1 281.2 143.4" fill="none" stroke="rgb(181,181,181)" stroke-width="0.9"/><path d="M303.1 179.5A1.8 1.8 0 0 1 305.2 176.7" fill="none" stroke="rgb(170,170,170)" stroke-width="0.9"/><path d="M291.2 158.6A1.8 1.8 0 0 1 288.3 159.4" fill="none" stroke="rgb(204,204,204)" stroke-width="0.9"/><path d="M302.8 164.0A1.7 1.7 0 1 1 305.7 165.0" fill="none" stroke="rgb(155,155,155)" stroke-width="0.9"/><path d="M325.8 156.2A1.5 1.5 0 0 1 327.4 153.7" fill="none" stroke="rgb(193,193,193)" stroke-width="0.9"/><path d="M326.6 162.2A2.5 2.5 0 0 1 330.8 164.0" fill="none" stroke="rgb(182,182,182)" stroke-width="0.9"/><path d="M328.3 131.7A2.1 2.1 0 1 1 325.7 135.0" fill="none" stroke="rgb(195,195,195)" stroke-width="0.9"/><path d="M324.7 131.2A2.3 2.3 0 0 1 327.8 134.0" fill="none" stroke="rgb(183,183,183)" stroke-width="0.9"/><path d="M310.1 139.4A2.2 2.2 0 0 1 306.3 140.9" fill="none" stroke="rgb(176,176,176)" stroke-width="0.9"/><path d="M329.9 154.9A2.7 2.7 0 1 1 327.8 159.8" fill="none" stroke="rgb(188,188,188)" stroke-width="0.9"/><path d="M300.5 174.1A2.5 2.5 0 1 1 298.2 178.4" fill="none" stroke="rgb(193,193,193)" stroke-width="0.9"/><path d="M288.4 169.5A1.8 1.8 0 0 1 287.4 172.2" fill="none" stroke="rgb(207,207,207)" stroke-width="0.9"/><path d="M315.8 169.1A2.6 2.6 0 0 1 320.3 167.6" fill="none" stroke="rgb(177,177,177)" stroke-width="0.9"/><path d="M295.2 142.4A1.9 1.9 0 1 1 291.8 140.7" fill="none" stroke="rgb(198,198,198)" stroke-width="0.9"/><path d="M322.5 168.2A2.6 2.6 0 1 1 322.0 163.1" fill="none" stroke="rgb(189,189,189)" stroke-width="0.9"/><path d="M304.0 170.4A2.0 2.0 0 0 1 301.2 168.0" fill="none" stroke="rgb(160,160,160)" stroke-width="0.9"/><path d="M303.0 158.5A2.2 2.2 0 0 1 305.6 155.1" fill="none" stroke="rgb(174,174,174)" stroke-width="0.9"/><path d="M322.2 135.2A1.4 1.4 0 0 1 320.1 134.0" fill="none" stroke="rgb(211,211,211)" stroke-width="0.9"/><path d="M332.7 174.3A2.1 2.1 0 0 1 329.7 176.6" fill="none" stroke="rgb(210,210,210)" stroke-width="0.9"/><path d="M315.3 129.4A2.7 2.7 0 0 1 310.2 128.4" fill="none" stroke="rgb(199,199,199)" stroke-width="0.9"/><path d="M329.2 138.2A2.2 2.2 0 1 1 324.8 137.3" fill="none" stroke="rgb(216,216,216)" stroke-width="0.9"/><path d="M288.9 171.5A1.7 1.7 0 1 1 290.5 174.4" fill="none" stroke="rgb(213,213,213)" stroke-width="0.9"/><path d="M294.5 142.1A2.3 2.3 0 1 1 292.0 138.4" fill="none" stroke="rgb(206,206,206)" stroke-width="0.9"/><path d="M307.9 134.4A2.1 2.1 0 0 1 306.1 138.2" fill="none" stroke="rgb(183,183,183)" stroke-width="0.9"/><path d="M291.4 143.0A2.2 2.2 0 1 1 287.0 142.0" fill="none" stroke="rgb(193,193,193)" stroke-width="0.9"/><path d="M305.5 163.6A1.5 1.5 0 0 1 306.6 160.9" fill="none" stroke="rgb(163,163,163)" stroke-width="0.9"/><path d="M333.1 153.0A1.9 1.9 0 1 1 331.9 156.2" fill="none" stroke="rgb(198,198,198)" stroke-width="0.9"/><path d="M337.5 164.0A2.6 2.6 0 0 1 335.9 168.1" fill="none" stroke="rgb(194,194,194)" stroke-width="0.9"/><path d="M321.9 133.1A2.9 2.9 0 1 1 318.2 137.4" fill="none" stroke="rgb(201,201,201)" stroke-width="0.9"/><path d="M309.0 171.7A1.7 1.7 0 0 1 305.7 171.9" fill="none" stroke="rgb(184,184,184)" stroke-width="0.9"/><path d="M316.1 135.4A2.3 2.3 0 0 1 315.0 139.3" fill="none" stroke="rgb(177,177,177)" stroke-width="0.9"/><path d="M320.3 153.1A1.6 1.6 0 1 1 323.3 152.4" fill="none" stroke="rgb(165,165,165)" stroke-width="0.9"/><path d="M327.5 164.2A1.5 1.5 0 1 1 325.0 165.3" fill="none" stroke="rgb(166,166,166)" stroke-width="0.9"/><path d="M312.5 146.0A2.0 2.0 0 0 1 309.3 146.0" fill="none" stroke="rgb(168,168,168)" stroke-width="0.9"/><path d="M319.4 153.0A1.9 1.9 0 1 1 322.6 151.2" fill="none" stroke="rgb(150,150,150)" stroke-width="0.9"/><path d="M323.8 138.1A2.8 2.8 0 1 1 320.4 134.1" fill="none" stroke="rgb(180,180,180)" stroke-width="0.9"/><path d="M293.9 152.1A2.9 2.9 0 0 1 288.2 153.5" fill="none" stroke="rgb(181,181,181)" stroke-width="0.9"/><path d="M289.4 172.7A2.5 2.5 0 1 1 285.5 175.4" fill="none" stroke="rgb(218,218,218)" stroke-width="0.9"/><path d="M288.7 142.1A1.7 1.7 0 1 1 286.6 139.5" fill="none" stroke="rgb(200,200,200)" stroke-width="0.9"/><path d="M321.8 161.6A1.8 1.8 0 1 1 323.8 158.6" fill="none" stroke="rgb(171,171,171)" stroke-width="0.9"/><path d="M317.2 181.7A2.5 2.5 0 0 1 318.9 186.2" fill="none" stroke="rgb(203,203,203)" stroke-width="0.9"/><path d="M309.0 144.2A1.5 1.5 0 0 1 308.6 141.3" fill="none" stroke="rgb(188,188,188)" stroke-width="0.9"/><path d="M292.5 166.2A2.2 2.2 0 0 1 289.2 168.8" fill="none" stroke="rgb(205,205,205)" stroke-width="0.9"/><path d="M290.3 167.5A1.6 1.6 0 1 1 288.9 164.8" fill="none" stroke="rgb(167,167,167)" stroke-width="0.9"/><path d="M296.3 139.8A2.9 2.9 0 1 1 301.2 136.7" fill="none" stroke="rgb(198,198,198)" stroke-width="0.9"/><path d="M310.9 181.3A2.0 2.0 0 0 1 312.8 177.8" fill="none" stroke="rgb(210,210,210)" stroke-width="0.9"/><path d="M321.9 149.2A2.5 2.5 0 0 1 325.5 152.1" fill="none" stroke="rgb(179,179,179)" stroke-width="0.9"/><path d="M289.1 174.2A2.8 2.8 0 0 1 291.6 169.6" fill="none" stroke="rgb(172,172,172)" stroke-width="0.9"/><path d="M317.1 130.3A2.3 2.3 0 0 1 320.9 129.3" fill="none" stroke="rgb(191,191,191)" stroke-width="0.9"/><path d="M322.5 163.6A2.0 2.0 0 1 1 322.9 167.5" fill="none" stroke="rgb(178,178,178)" stroke-width="0.9"/><path d="M333.2 151.8A2.8 2.8 0 0 1 337.3 154.4" fill="none" stroke="rgb(180,180,180)" stroke-width="0.9"/><path d="M293.4 169.9A1.9 1.9 0 0 1 295.2 173.3" fill="none" stroke="rgb(174,174,174)" stroke-width="0.9"/><path d="M338.0 149.8A2.0 2.0 0 1 1 335.9 153.3" fill="none" stroke="rgb(228,228,228)" stroke-width="0.9"/><path d="M311.4 158.1A3.0 3.0 0 1 1 313.6 163.5" fill="none" stroke="rgb(155,155,155)" stroke-width="0.9"/><path d="M285.8 151.5A2.2 2.2 0 0 1 284.1 155.5" fill="none" stroke="rgb(172,172,172)" stroke-width="0.9"/><path d="M306.1 146.0A1.7 1.7 0 1 1 308.0 148.7" fill="none" stroke="rgb(190,190,190)" stroke-width="0.9"/><path d="M324.9 142.9A3.0 3.0 0 1 1 330.5 143.7" fill="none" stroke="rgb(196,196,196)" stroke-width="0.9"/><path d="M306.4 155.8A2.8 2.8 0 1 1 301.1 156.0" fill="none" stroke="rgb(141,141,141)" stroke-width="0.9"/><path d="M324.7 167.8A2.3 2.3 0 1 1 320.2 167.7" fill="none" stroke="rgb(164,164,164)" stroke-width="0.9"/><path d="M299.2 175.6A1.6 1.6 0 0 1 302.0 175.3" fill="none" stroke="rgb(167,167,167)" stroke-width="0.9"/></g></g><rect x="314.6" y="186.0" width="28.6" height="2.9" fill="#fff"/><rect x="268.7" y="117.1" width="77.9" height="75.6" fill="none" stroke="#111" stroke-width="1.7"/>
<line x1="434.61" y1="257.28" x2="711.44" y2="46.39" stroke="#7a2dc6" stroke-width="4.5" stroke-dasharray="10 19.8" stroke-dashoffset="19.9"/>
<g fill="#fff" stroke="#5a5a5a" stroke-width="1.6"><rect x="433.10" y="253.30" width="7.8" height="7.8"/><rect x="440.50" y="250.00" width="7.8" height="7.8"/><rect x="445.70" y="240.90" width="7.8" height="7.8"/><rect x="462.20" y="226.60" width="7.8" height="7.8"/><rect x="484.10" y="213.60" width="7.8" height="7.8"/><rect x="476.80" y="207.20" width="7.8" height="7.8"/><rect x="477.60" y="218.40" width="7.8" height="7.8"/><rect x="476.80" y="227.80" width="7.8" height="7.8"/><rect x="474.40" y="222.10" width="7.8" height="7.8"/><rect x="492.10" y="218.80" width="7.8" height="7.8"/><rect x="505.00" y="201.10" width="7.8" height="7.8"/><rect x="505.00" y="212.10" width="7.8" height="7.8"/><rect x="513.50" y="196.10" width="7.8" height="7.8"/><rect x="517.60" y="185.70" width="7.8" height="7.8"/><rect x="544.80" y="171.00" width="7.8" height="7.8"/><rect x="560.60" y="148.10" width="7.8" height="7.8"/><rect x="571.50" y="162.80" width="7.8" height="7.8"/><rect x="600.80" y="117.10" width="7.8" height="7.8"/><rect x="631.30" y="92.10" width="7.8" height="7.8"/><rect x="699.10" y="40.30" width="7.8" height="7.8"/></g>
<rect x="50.75" y="28.75" width="300.45" height="241.00" fill="none" stroke="#000" stroke-width="1.5"/>
<rect x="419.0" y="28.8" width="300.75" height="240.95" fill="none" stroke="#000" stroke-width="1.5"/>
<path d="M48 177H307V246H48Z M268 177V193.6H307V177Z" fill="#fff" fill-opacity="0.42" fill-rule="evenodd"/>
<g font-family='"Liberation Sans", sans-serif' font-weight="bold" stroke="currentColor" stroke-width="0.28" paint-order="stroke"><text x="1.0" y="15.8" font-size="20.5" text-anchor="start" fill="#000" color="#000" >a</text><text x="370.0" y="15.8" font-size="20.5" text-anchor="start" fill="#000" color="#000" >b</text><text x="41.3" y="48.6" font-size="11.5" text-anchor="end" fill="#000" color="#000" >4.2</text><text x="41.3" y="113.1" font-size="11.5" text-anchor="end" fill="#000" color="#000" >3.8</text><text x="41.3" y="177.6" font-size="11.5" text-anchor="end" fill="#000" color="#000" >3.4</text><text x="41.3" y="242.1" font-size="11.5" text-anchor="end" fill="#000" color="#000" >3.0</text><text x="49.96" y="287" font-size="11.5" text-anchor="middle" fill="#000" color="#000" >0</text><text x="91.9" y="287" font-size="11.5" text-anchor="middle" fill="#000" color="#000" >50</text><text x="133.84" y="287" font-size="11.5" text-anchor="middle" fill="#000" color="#000" >100</text><text x="176.88" y="287" font-size="11.5" text-anchor="middle" fill="#000" color="#000" >150</text><text x="219.92" y="287" font-size="11.5" text-anchor="middle" fill="#000" color="#000" >200</text><text x="262.96" y="287" font-size="11.5" text-anchor="middle" fill="#000" color="#000" >250</text><text x="306.0" y="287" font-size="11.5" text-anchor="middle" fill="#000" color="#000" >300</text><text x="349.04" y="287" font-size="11.5" text-anchor="middle" fill="#000" color="#000" >350</text><text x="201.5" y="306.8" font-size="14.5" text-anchor="middle" fill="#000" color="#000" >Capacity [pAh]</text><text x="0" y="0" font-size="14.35" text-anchor="middle" fill="#000" color="#000" transform="translate(16.3 148.2) rotate(-90)">Voltage [V vs. Li/Li+]</text><text x="411.8" y="274.6" font-size="11.5" text-anchor="end" fill="#000" color="#000" >0</text><text x="408.2" y="237.46" font-size="11.5" text-anchor="end" fill="#000" color="#000" >100</text><text x="408.2" y="200.32" font-size="11.5" text-anchor="end" fill="#000" color="#000" >200</text><text x="408.2" y="163.18" font-size="11.5" text-anchor="end" fill="#000" color="#000" >300</text><text x="408.2" y="126.04" font-size="11.5" text-anchor="end" fill="#000" color="#000" >400</text><text x="408.2" y="88.9" font-size="11.5" text-anchor="end" fill="#000" color="#000" >500</text><text x="408.2" y="51.76" font-size="11.5" text-anchor="end" fill="#000" color="#000" >600</text><text x="418.1" y="287.3" font-size="11.5" text-anchor="middle" fill="#000" color="#000" >0</text><text x="473.22" y="287.3" font-size="11.5" text-anchor="middle" fill="#000" color="#000" >200</text><text x="530.54" y="287.3" font-size="11.5" text-anchor="middle" fill="#000" color="#000" >400</text><text x="587.86" y="287.3" font-size="11.5" text-anchor="middle" fill="#000" color="#000" >600</text><text x="645.18" y="287.3" font-size="11.5" text-anchor="middle" fill="#000" color="#000" >800</text><text x="701.4" y="287.3" font-size="11.5" text-anchor="middle" fill="#000" color="#000" >1000</text><text x="571.3" y="306.3" font-size="14.25" text-anchor="middle" fill="#000" color="#000" >Particle volume estimated from SEM [μm³]</text><text x="0" y="0" font-size="14.5" text-anchor="middle" fill="#000" color="#000" transform="translate(380.3 150.2) rotate(-90)">Capacity [pAh]</text><text x="710.3" y="258.3" font-size="14.1" text-anchor="end" fill="#6f22bf" color="#6f22bf" >R² = 0.98</text><text x="205.2" y="104.8" font-size="11.7" text-anchor="end" fill="#000" color="#000" >Charging</text><text x="216.9" y="147.3" font-size="11.7" text-anchor="end" fill="#000" color="#000" >Discharging</text><text x="198.0" y="190.2" font-size="11.5" text-anchor="end" fill="#000" color="#000" >Diameter:</text><text x="200.8" y="190.2" font-size="11.5" text-anchor="start" fill="#000" color="#000" >10.1</text><text x="198.0" y="208.3" font-size="11.5" text-anchor="end" fill="#000" color="#000" >Discharge capacity:</text><text x="200.8" y="208.3" font-size="11.5" text-anchor="start" fill="#000" color="#000" >278</text><text x="198.0" y="226.4" font-size="11.5" text-anchor="end" fill="#000" color="#000" >(Dis)charge current:</text><text x="200.8" y="226.4" font-size="11.5" text-anchor="start" fill="#000" color="#000" >120</text><text x="198.0" y="244.5" font-size="11.5" text-anchor="end" fill="#000" color="#000" >(Dis)charge rate:</text><text x="200.8" y="244.5" font-size="11.5" text-anchor="start" fill="#000" color="#000" >0.22</text><text x="230.5" y="190.2" font-size="11.5">μm</text><text x="227.6" y="208.3" font-size="11.5">pAh</text><text x="227.6" y="226.4" font-size="11.5">pA</text><text x="231.9" y="244.5" font-size="11.5">pA</text><text x="251.3" y="244.5" font-size="11.5">μm<tspan dy="-4.3" font-size="6.8">-3</tspan><tspan dy="4.3">(~C/3)</tspan></text></g>
</svg></body></html>
